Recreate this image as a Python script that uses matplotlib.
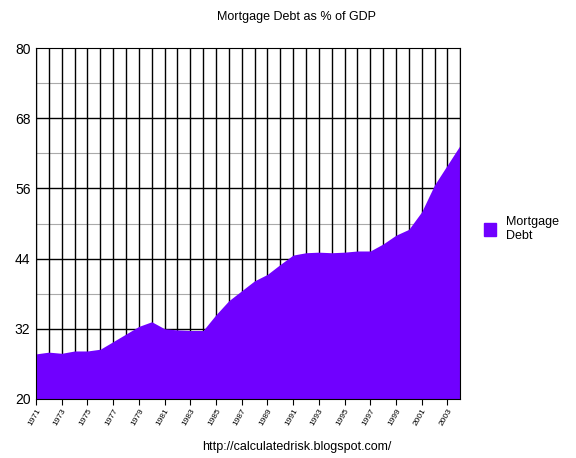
import matplotlib
matplotlib.use("Agg")
import matplotlib.pyplot as plt
import matplotlib.patches as mpatches

years = list(range(1971, 2005))
debt = [27.7, 28.0, 27.8, 28.2, 28.2, 28.5, 29.8, 31.1, 32.4, 33.2,
        32.0, 31.8, 31.7, 31.7, 34.4, 36.8, 38.5, 40.2, 41.3, 43.0,
        44.6, 45.0, 45.1, 45.0, 45.1, 45.3, 45.3, 46.5, 48.0, 49.0,
        52.0, 56.6, 60.0, 63.4]
yticks = [20, 32, 44, 56, 68, 80]
color = "#7000ff"

plt.rcParams['font.family'] = ['Liberation Sans', 'DejaVu Sans']
fig = plt.figure(figsize=(5.76, 4.58), dpi=100)
ax = fig.add_axes([0.0625, 0.129, 0.7365, 0.766])
ax.set_xlim(1971, 2004)
ax.set_ylim(20, 80)
for v in range(26, 80, 12):
    ax.axhline(v, color="#aaaaaa", lw=0.8, zorder=1)
for v in yticks[1:-1]:
    ax.axhline(v, color="black", lw=1, zorder=1)
for y in years:
    ax.axvline(y, color="black", lw=1, zorder=1)
ax.fill_between(years, 20, debt, color=color, zorder=2, lw=0)
ax.set_yticks(yticks)
ax.set_xticks(years[::2])
ax.set_xticklabels([str(y) for y in years[::2]], rotation=60, fontsize=6, ha='right', rotation_mode='anchor')
ax.tick_params(axis='y', labelsize=10, length=0, pad=4)
ax.tick_params(axis='x', length=4, pad=2)
for s in ax.spines.values():
    s.set_color("black")
fig.text(0.515, 0.963, "Mortgage Debt as % of GDP", ha='center', va='center', fontsize=9)
fig.text(0.516, 0.024, "http://calculatedrisk.blogspot.com/", ha='center', va='center', fontsize=9)
fig.legend(handles=[mpatches.Patch(color=color, label="Mortgage\nDebt")],
           loc='center left', bbox_to_anchor=(0.82, 0.5), frameon=False,
           fontsize=9, handlelength=1.0, handleheight=1.3)
fig.savefig("out.png")
